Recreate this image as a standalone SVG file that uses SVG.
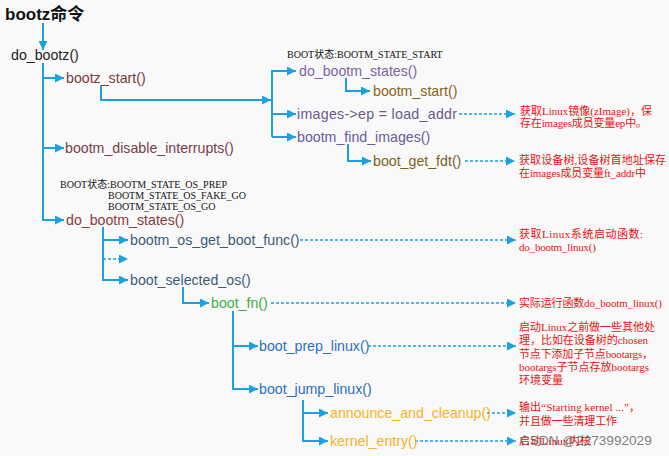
<svg xmlns="http://www.w3.org/2000/svg" width="669" height="456" viewBox="0 0 669 456">
<defs>
<marker id="ah" viewBox="0 0 10 10" refX="10" refY="5" markerWidth="9" markerHeight="9" orient="auto" markerUnits="userSpaceOnUse"><path d="M0,0 L10,5 L0,10 z" fill="#1ba1e2"/></marker>
<style>
.c{fill:none;stroke:#1ba1e2;stroke-width:2;marker-end:url(#ah)}
.d{fill:none;stroke:#1ba1e2;stroke-width:1.3;stroke-dasharray:3 2;marker-end:url(#ah)}
.t{font-family:"Liberation Sans","Noto Sans CJK SC",sans-serif;font-size:14.2px}
.s{font-family:"Liberation Serif","Noto Sans CJK SC",serif;font-size:10px;fill:#111}
.n{font-family:"Liberation Serif","Noto Sans CJK SC",serif;font-size:11px;fill:#ee1111}
</style>
</defs>
<rect width="669" height="456" fill="#f9f9f9"/>

<g id="connectors">
<path class="c" d="M43,23 V50"/>
<path class="c" d="M43,63 V220 H64"/>
<path class="c" d="M43,78 H64"/>
<path class="c" d="M43,148 H64"/>
<path class="c" d="M101,86 V100 H271"/>
<path class="c" d="M272,137 V71 H296"/>
<path class="c" d="M272,114 H296"/>
<path class="c" d="M272,137 H296"/>
<path class="c" d="M346,78 V91 H370"/>
<path class="c" d="M348,144 V161 H371"/>
<path class="d" d="M459,114 H515"/>
<path class="d" d="M465,161 H515"/>
<path class="c" d="M103,227 V280 H128"/>
<path class="c" d="M103,240 H128"/>
<path class="d" d="M103,259 H128"/>
<path class="d" d="M300,240 H516"/>
<path class="c" d="M183,287 V303 H209"/>
<path class="d" d="M271,303 H516"/>
<path class="c" d="M233,311 V389 H258"/>
<path class="c" d="M233,346 H258"/>
<path class="d" d="M368,346 H516"/>
<path class="c" d="M303,400 V441 H328"/>
<path class="c" d="M303,413 H328"/>
<path class="d" d="M487,413 H516"/>
<path class="d" d="M415,441 H516"/>
</g>

<g id="title"><text x="5" y="20" font-family="Liberation Sans,Noto Sans CJK SC,sans-serif" font-size="17" font-weight="bold" fill="#111">bootz命令</text></g>
<g id="do_bootz"><text class="t" x="11" y="60" fill="#222">do_bootz()</text></g>
<g id="bootz_start"><text class="t" x="66" y="83" fill="#7b3b3b">bootz_start()</text></g>
<g id="bootm_disable_interrupts"><text class="t" x="65" y="153" fill="#7a3c4c">bootm_disable_interrupts()</text></g>

<g id="state_start"><text class="s" x="287" y="58">BOOT状态:BOOTM_STATE_START</text></g>
<g id="do_bootm_states_1"><text class="t" x="299" y="76" fill="#8262a8">do_bootm_states()</text></g>
<g id="bootm_start"><text class="t" x="373" y="96" fill="#8a6418">bootm_start()</text></g>
<g id="images_ep"><text class="t" x="297" y="119" fill="#6a5a8a" textLength="160" lengthAdjust="spacing">images-&gt;ep = load_addr</text></g>
<g id="bootm_find_images"><text class="t" x="297" y="142" fill="#6a5a9a">bootm_find_images()</text></g>
<g id="boot_get_fdt"><text class="t" x="373" y="166" fill="#7f6020">boot_get_fdt()</text></g>

<g id="note_images"><text class="n" x="520" y="114.5" textLength="132" lengthAdjust="spacing">获取Linux镜像(zImage)，保</text><text class="n" x="520" y="127" textLength="127" lengthAdjust="spacing">存在images成员变量ep中。</text></g>
<g id="note_fdt"><text class="n" x="519" y="164" textLength="147" lengthAdjust="spacing">获取设备树,设备树首地址保存</text><text class="n" x="519" y="176.5" textLength="127" lengthAdjust="spacing">在images成员变量ft_addr中</text></g>

<g id="state_os"><text class="s" x="60" y="188">BOOT状态:BOOTM_STATE_OS_PREP</text><text class="s" x="108" y="199">BOOTM_STATE_OS_FAKE_GO</text><text class="s" x="108" y="210">BOOTM_STATE_OS_GO</text></g>
<g id="do_bootm_states_2"><text class="t" x="66" y="225" fill="#8b3c3c">do_bootm_states()</text></g>
<g id="bootm_os_get_boot_func"><text class="t" x="130" y="245" fill="#3b5b7b">bootm_os_get_boot_func()</text></g>
<g id="boot_selected_os"><text class="t" x="130" y="285" fill="#3b5b7b">boot_selected_os()</text></g>
<g id="note_boot_func"><text class="n" x="519" y="238" textLength="124" lengthAdjust="spacing">获取Linux系统启动函数:</text><text class="n" x="519" y="251" textLength="77" lengthAdjust="spacing">do_bootm_linux()</text></g>
<g id="boot_fn"><text class="t" x="211" y="308" fill="#3cb043">boot_fn()</text></g>
<g id="note_boot_fn"><text class="n" x="519" y="307" textLength="143" lengthAdjust="spacing">实际运行函数do_bootm_linux()</text></g>
<g id="boot_prep_linux"><text class="t" x="259" y="351" fill="#2e6fbf">boot_prep_linux()</text></g>
<g id="note_prep"><text class="n" x="519" y="331" textLength="136" lengthAdjust="spacing">启动Linux之前做一些其他处</text><text class="n" x="519" y="344" textLength="129" lengthAdjust="spacing">理，比如在设备树的chosen</text><text class="n" x="519" y="358" textLength="134" lengthAdjust="spacing">节点下添加子节点bootargs，</text><text class="n" x="519" y="371" textLength="130" lengthAdjust="spacing">bootargs子节点存放bootargs</text><text class="n" x="519" y="384" textLength="44" lengthAdjust="spacing">环境变量</text></g>
<g id="boot_jump_linux"><text class="t" x="259" y="394" fill="#2e6fbf">boot_jump_linux()</text></g>
<g id="announce_and_cleanup"><text class="t" x="330" y="418" fill="#f5b324">announce_and_cleanup()</text></g>
<g id="note_announce"><text class="n" x="519" y="411" textLength="121" lengthAdjust="spacing">输出“Starting kernel ...”，</text><text class="n" x="519" y="425" textLength="98" lengthAdjust="spacing">并且做一些清理工作</text></g>
<g id="kernel_entry"><text class="t" x="330" y="446" fill="#f5b324">kernel_entry()</text></g>
<g id="note_kernel"><text class="n" x="519" y="445" textLength="72" lengthAdjust="spacing">启动Linux内核</text></g>
<g id="watermark"><text x="520" y="445" font-family="Liberation Sans,sans-serif" font-size="13.6" fill="#666" fill-opacity="0.85">CSDN @2273992029</text></g>
</svg>
